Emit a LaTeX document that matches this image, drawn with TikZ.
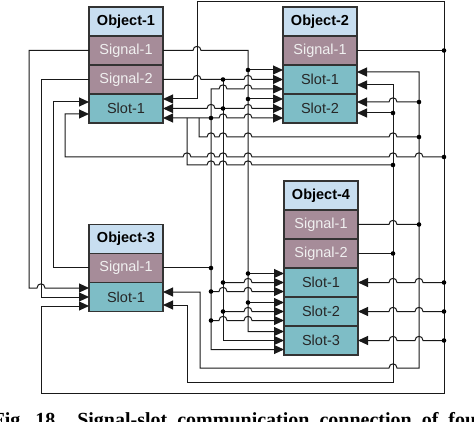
\documentclass[tikz,border=0pt]{standalone}
\usepackage{fontspec}
\setmainfont{Liberation Serif}
\newfontfamily\boxfont{Liberation Sans}
\usetikzlibrary{arrows.meta}
\definecolor{headblue}{HTML}{C8DEF0}
\definecolor{sigmauve}{HTML}{A68C99}
\definecolor{slotteal}{HTML}{7EBDC6}
% jump of a horizontal wire over a vertical one at x=#1
\newcommand{\hopx}[2]{-- ({#1-4},#2) .. controls ({#1-4},{#2-5.5}) and ({#1+4},{#2-5.5}) .. ({#1+4},#2)}
\tikzset{
	cell/.style={rectangle, draw=black!80, line width=1.1pt, minimum width=74pt, minimum height=29pt, inner sep=0pt, outer sep=0pt, font=\boxfont\fontsize{14.5}{15}\selectfont},
	head/.style={cell, fill=headblue, font=\boxfont\bfseries\fontsize{14.5}{15}\selectfont},
	sig/.style={cell, fill=sigmauve, text=white!94!black},
	slot/.style={cell, fill=slotteal, text=black!85},
	wire/.style={line width=1pt, draw=black!90, >={Triangle[length=10pt,width=9pt]}},
}
\begin{document}
\begin{tikzpicture}[x=1pt,y=-1pt]
	\useasboundingbox (0,0) rectangle (474,422);
	\fill[white] (0,0) rectangle (474,422);
	% objects
	\node (O1h)  at (126,  21.5)	[head]	{Object-1};
	\node (O1s1) at (126,  50.5)	[sig]	{Signal-1};
	\node (O1s2) at (126,  79.5)	[sig]	{Signal-2};
	\node (O1t1) at (126, 108.5)	[slot]	{Slot-1};
	\node (O2h)  at (320,  21.5)	[head]	{Object-2};
	\node (O2s1) at (320,  50.5)	[sig]	{Signal-1};
	\node (O2t1) at (320,  79.5)	[slot]	{Slot-1};
	\node (O2t2) at (320, 108.5)	[slot]	{Slot-2};
	\node (O3h)  at (126, 239)	[head]	{Object-3};
	\node (O3s1) at (126, 268)	[sig]	{Signal-1};
	\node (O3t1) at (126, 297)	[slot]	{Slot-1};
	\node (O4h)  at (321, 195.5)	[head]	{Object-4};
	\node (O4s1) at (321, 224.5)	[sig]	{Signal-1};
	\node (O4s2) at (321, 253.5)	[sig]	{Signal-2};
	\node (O4t1) at (321, 282.5)	[slot]	{Slot-1};
	\node (O4t2) at (321, 311.5)	[slot]	{Slot-2};
	\node (O4t3) at (321, 340.5)	[slot]	{Slot-3};
	% Object-1 Signal-1
	\draw[wire,->] (O1s1.east) \hopx{197}{50.5} -- (248,50.5) -- (248,331.5) -- (O4t3.west |- 0,331.5);
	\draw[wire,->] (248,70) -- (O2t1.west |- 0,70);
	\draw[wire,->] (248,99) -- (O2t2.west |- 0,99);
	\draw[wire,->] (248,273.5) -- (O4t1.west |- 0,273.5);
	\draw[wire,->] (248,302.5) -- (O4t2.west |- 0,302.5);
	\draw[wire,->] (O1s1.west) -- (29,50.5) -- (29,288) \hopx{41}{288} -- (O3t1.west |- 0,288);
	% Object-1 Signal-2
	\draw[wire,->] (O1s2.east) \hopx{197}{79.5} -- (223,79.5) \hopx{248}{79.5} -- (O2t1.west);
	\draw[wire,->] (223,79.5) -- (223,340.5) -- (O4t3.west);
	\draw[wire,<->] (O1t1.east) \hopx{211}{108.5} -- (223,108.5) \hopx{248}{108.5} -- (O2t2.west);
	\draw[wire,->] (223,282.5) \hopx{248}{282.5} -- (O4t1.west);
	\draw[wire,->] (223,311.5) \hopx{248}{311.5} -- (O4t2.west);
	\draw[wire,->] (O1s2.west) -- (41,79.5) -- (41,297) -- (O3t1.west);
	% Object-3 Signal-1
	\draw[wire] (O3s1.east) -- (211,268);
	\draw[wire,<->] (O4t3.west |- 0,349.5) -- (211,349.5) -- (211,89) \hopx{223}{89} \hopx{248}{89} -- (O2t1.west |- 0,89);
	\draw[wire,<->] (O1t1.east |- 0,118) -- (211,118) \hopx{223}{118} \hopx{248}{118} -- (O2t2.west |- 0,118);
	\draw[wire,->] (211,291.5) \hopx{223}{291.5} \hopx{248}{291.5} -- (O4t1.west |- 0,291.5);
	\draw[wire,->] (211,320.5) \hopx{223}{320.5} \hopx{248}{320.5} -- (O4t2.west |- 0,320.5);
	\draw[wire,->] (O3s1.west) -- (53,268) -- (53,102) -- (O1t1.west |- 0,102);
	% Object-2 Signal-1
	\draw[wire] (O2s1.east) -- (444,50.5);
	\draw[wire,<->] (O1t1.east |- 0,99) -- (197,99) -- (197,1.5) -- (444,1.5) -- (444,393) -- (41,393) -- (41,306) -- (O3t1.west |- 0,306);
	\draw[wire,<-] (O1t1.west |- 0,114) -- (65,114) -- (65,157) \hopx{187}{157} \hopx{211}{157} \hopx{223}{157} \hopx{248}{157} \hopx{393}{157} \hopx{419}{157} -- (444,157);
	\draw[wire,<-] (O4t1.east) \hopx{393}{282.5} \hopx{419}{282.5} -- (444,282.5);
	\draw[wire,<-] (O4t2.east) \hopx{393}{311.5} \hopx{419}{311.5} -- (444,311.5);
	\draw[wire,<-] (O4t3.east) \hopx{393}{340.5} \hopx{419}{340.5} -- (444,340.5);
	% Object-4 Signal-1
	\draw[wire] (O4s1.east) \hopx{393}{224.5} -- (419,224.5);
	\draw[wire,<->] (O3t1.east |- 0,292) -- (200,292) -- (200,368) \hopx{393}{368} -- (419,368) -- (419,72) -- (O2t1.east |- 0,72);
	\draw[wire,<-] (O2t2.east |- 0,102) \hopx{393}{102} -- (419,102);
	\draw[wire] (199,118) -- (199,137) \hopx{211}{137} \hopx{223}{137} \hopx{248}{137} \hopx{393}{137} -- (419,137);
	% Object-4 Signal-2
	\draw[wire] (O4s2.east) -- (393,253.5);
	\draw[wire,<->] (O3t1.east |- 0,305) -- (187,305) -- (187,382) -- (393,382) -- (393,85) -- (O2t1.east |- 0,85);
	\draw[wire,<-] (O2t2.east |- 0,113) -- (393,113);
	\draw[wire] (187,118) -- (187,165) \hopx{211}{165} \hopx{223}{165} \hopx{248}{165} -- (393,165);
	% junctions
	\foreach \p in {(248,70),(248,99),(248,273.5),(248,302.5),
		(223,79.5),(223,108.5),(223,282.5),(223,311.5),
		(211,118),(211,268),(211,291.5),(211,320.5),
		(444,50.5),(444,157),(444,282.5),(444,311.5),(444,340.5),
		(419,102),(419,137),(419,224.5),(393,113),(393,165),(393,253.5)}
		\fill \p circle (2.3pt);
	% caption, cut by the page edge as in the source
	\node (cap) at (-11,426) [anchor=base west, font=\bfseries\fontsize{20}{20}\selectfont] {\spaceskip=10pt Fig.~18\hspace{22pt}Signal-slot communication connection of four};
\end{tikzpicture}
\end{document}
